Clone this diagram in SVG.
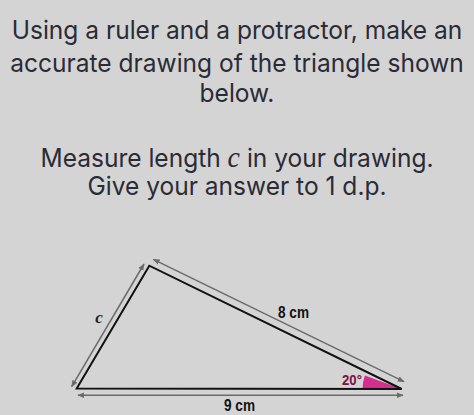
<svg xmlns="http://www.w3.org/2000/svg" width="474" height="415" viewBox="0 0 474 415">
<style>
.q{font-family:Inter,"Open Sans","Liberation Sans",sans-serif;font-size:25.5px;fill:#2b2b35;text-anchor:middle}
.lbl{font-family:"Liberation Sans Narrow","Liberation Sans",sans-serif;font-size:16px;fill:#111;font-weight:bold}
.dim{stroke:#6b6b6b;stroke-width:1.5;fill:none;marker-start:url(#ah);marker-end:url(#ah)}
.edge{stroke:#111;stroke-width:2;fill:none;stroke-linejoin:miter}
</style>
<defs>
<marker id="ah" viewBox="0 0 10 10" refX="9" refY="5" markerWidth="7" markerHeight="7" orient="auto-start-reverse" markerUnits="userSpaceOnUse">
<path d="M0,1 L10,5 L0,9 z" fill="#6b6b6b"/>
</marker>
</defs>
<rect width="474" height="415" fill="#d4d4d4"/>
<g id="question" transform="translate(237 0) scale(0.962 1) translate(-237 0)">
<text class="q" x="237" y="39">Using a ruler and a protractor, make an</text>
<text class="q" x="237" y="72">accurate drawing of the triangle shown</text>
<text class="q" x="237" y="102">below.</text>
<text class="q" x="237" y="167">Measure length <tspan font-family="'Liberation Serif',serif" font-style="italic" font-size="29">c</tspan> in your drawing.</text>
<text class="q" x="237" y="195">Give your answer to 1 d.p.</text>
</g>
<g id="angle">
<path d="M401.7,389 L362.5,389 A39.2,39.2 0 0 1 364.9,375.6 Z" fill="#d42e8e"/>
<text x="352" y="385" font-family="'Liberation Sans Narrow','Liberation Sans',sans-serif" font-size="15.5" font-weight="bold" fill="#7a1242" text-anchor="middle" transform="translate(352 0) scale(0.85 1) translate(-352 0)">20°</text>
</g>
<g id="triangle">
<path class="edge" d="M76.7,388.5 L149.3,265.7 L401.7,389 Z"/>
</g>
<g id="connectors">
<line class="dim" x1="71.7" y1="386.7" x2="144" y2="264"/>
<line class="dim" x1="153.3" y1="259.3" x2="404" y2="381.7"/>
<line class="dim" x1="78" y1="395.3" x2="403" y2="395.3"/>
</g>
<g id="labels">
<text x="99" y="323" font-family="'Liberation Serif',serif" font-style="italic" font-weight="bold" font-size="17" fill="#222" text-anchor="middle">c</text>
<text class="lbl" x="293.5" y="318" text-anchor="middle" transform="translate(293.5 0) scale(0.85 1) translate(-293.5 0)">8 cm</text>
<text class="lbl" x="239.5" y="411.5" text-anchor="middle" transform="translate(239.5 0) scale(0.85 1) translate(-239.5 0)">9 cm</text>
</g>
</svg>
